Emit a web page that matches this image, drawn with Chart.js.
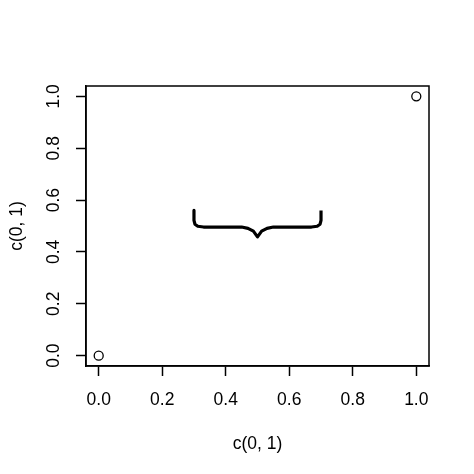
<!DOCTYPE html>
<html>
<head>
<meta charset="utf-8">
<script src="https://cdn.jsdelivr.net/npm/chart.js@4"></script>
<style>
  html, body { margin: 0; padding: 0; background: #ffffff; }
  canvas { display: block; }
</style>
</head>
<body>
<canvas id="grafico" width="474" height="474"></canvas>
<script>
// puntos de plot(c(0, 1), c(0, 1))
var valoresX = [0, 1];
var valoresY = [0, 1];

// llave horizontal dibujada entre x = 0.3 y x = 0.7
var llaveX = [0.3, 0.3, 0.303, 0.312, 0.33, 0.45, 0.47, 0.487, 0.5, 0.513, 0.53, 0.55, 0.67, 0.688, 0.697, 0.7, 0.7];
var llaveY = [0.56, 0.522, 0.507, 0.499, 0.496, 0.496, 0.491, 0.48, 0.458, 0.48, 0.491, 0.496, 0.496, 0.499, 0.507, 0.522, 0.56];

var etiquetasTicks = [0, 0.2, 0.4, 0.6, 0.8, 1.0];
var tituloEjeX = 'c(0, 1)';
var tituloEjeY = 'c(0, 1)';

function aPuntos(xs, ys) {
  return xs.map(function (x, i) { return { x: x, y: ys[i] }; });
}

var fuente = { family: "'Liberation Sans', Arial, sans-serif", size: 17.5 };

// marco completo alrededor del area del grafico, como box() en R
var caja = {
  id: 'caja',
  afterDraw: function (chart) {
    var a = chart.chartArea;
    var ctx = chart.ctx;
    ctx.save();
    ctx.strokeStyle = '#000';
    ctx.lineWidth = 1.5;
    ctx.strokeRect(a.left, a.top, a.right - a.left, a.bottom - a.top);
    ctx.restore();
  }
};

function ticksFijos(scale) {
  scale.ticks = etiquetasTicks.map(function (v) { return { value: v }; });
}

var ctx = document.getElementById('grafico').getContext('2d');

var miGrafico = new Chart(ctx, {
  type: 'scatter',
  data: {
    datasets: [{
      data: aPuntos(valoresX, valoresY),
      showLine: false,
      pointRadius: 4.5,
      pointBorderWidth: 1.3,
      pointBorderColor: '#000',
      pointBackgroundColor: 'rgba(0,0,0,0)'
    }, {
      data: aPuntos(llaveX, llaveY),
      showLine: true,
      borderColor: '#000',
      borderWidth: 3.2,
      borderJoinStyle: 'round',
      pointRadius: 0,
      tension: 0
    }]
  },
  options: {
    responsive: false,
    animation: false,
    layout: { padding: { top: 86, right: 45, left: 0, bottom: 0 } },
    plugins: { legend: { display: false }, tooltip: { enabled: false } },
    scales: {
      x: {
        type: 'linear',
        min: -0.04,
        max: 1.04,
        afterBuildTicks: ticksFijos,
        afterFit: function (scale) { scale.height = 108; },
        grid: { drawOnChartArea: false, drawTicks: true, tickLength: 10, tickColor: '#000', tickWidth: 1.5 },
        border: { display: true, color: '#000', width: 1.5 },
        ticks: {
          color: '#000',
          font: fuente,
          padding: 14,
          maxRotation: 0,
          callback: function (v) { return v.toFixed(1); }
        },
        title: { display: true, text: tituloEjeX, color: '#000', font: fuente, padding: { top: 0, bottom: 19 } }
      },
      y: {
        type: 'linear',
        min: -0.04,
        max: 1.04,
        afterBuildTicks: ticksFijos,
        afterFit: function (scale) { scale.width = 86; },
        grid: { drawOnChartArea: false, drawTicks: true, tickLength: 10, tickColor: '#000', tickWidth: 1.5 },
        border: { display: true, color: '#000', width: 1.5 },
        ticks: {
          color: '#000',
          font: fuente,
          padding: 10,
          minRotation: 90,
          maxRotation: 90,
          crossAlign: 'center',
          callback: function (v) { return v.toFixed(1); }
        },
        title: { display: true, text: tituloEjeY, color: '#000', font: fuente, padding: { top: 7, bottom: 0 } }
      }
    }
  },
  plugins: [caja]
});
</script>
</body>
</html>
